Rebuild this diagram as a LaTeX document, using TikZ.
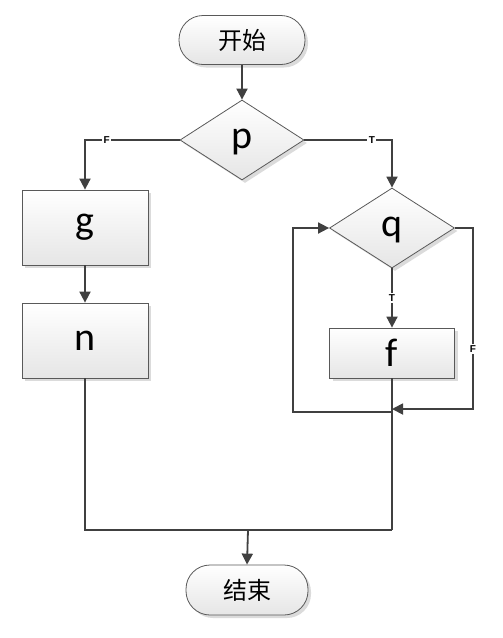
\documentclass[tikz,border=0pt]{standalone}
\usepackage{fontspec}
\setmainfont{Carlito}
\newfontfamily\cjk{Noto Sans CJK SC}
\newfontfamily\labfont{Liberation Sans}
\usetikzlibrary{shapes.geometric,arrows.meta,shadows}
\definecolor{edgec}{HTML}{404040}
\definecolor{linec}{HTML}{595959}
\tikzset{
  base/.style={draw=linec, line width=0.8pt, top color=white, bottom color=black!10,
    drop shadow={shadow xshift=3pt, shadow yshift=-3pt, fill=black!14, opacity=1}, inner sep=0pt},
  term/.style={base, rectangle, rounded corners=24pt, minimum height=49pt, font=\cjk\fontsize{24}{24}\selectfont},
  proc/.style={base, rectangle, font=\fontsize{40}{40}\selectfont},
  dec/.style={base, diamond, minimum width=124pt, minimum height=80pt},
  declab/.style={font=\fontsize{40}{40}\selectfont, inner sep=0pt},
  conn/.style={draw=edgec, line width=1.8pt},
  arr/.style={conn, -{Triangle[length=11pt,width=11pt]}},
  tf/.style={fill=white, inner sep=1.5pt, font=\labfont\bfseries\fontsize{10}{10}\selectfont, text=black}
}
\begin{document}
\begin{tikzpicture}[x=1pt,y=-1pt]
\useasboundingbox (0,0) rectangle (503,638);
\node[term, minimum width=126pt] (start) at (242,40) {开始};
\node[dec] (p) at (242,140) {};
\node[declab, yshift=-2pt] (pl) at (p) {p};
\node[proc, minimum width=126pt, minimum height=75pt] (g) at (85,227.5) {g};
\node[proc, minimum width=126pt, minimum height=75pt] (n) at (85,340.5) {n};
\node[dec, minimum width=125pt] (q) at (392,228) {};
\node[declab, yshift=-2pt] (ql) at (q) {q};
\node[proc, minimum width=125pt, minimum height=50pt] (f) at (392,353) {f};
\node[term, minimum width=122pt, minimum height=50pt] (end) at (247,590) {结束};

\coordinate (fr) at (473,228);
\coordinate (frb) at (473,409);
\coordinate (fin) at (392,409);
\coordinate (lb) at (392,412);
\coordinate (lbl) at (293,412);
\coordinate (lt) at (293,228);
\coordinate (fb) at (392,530);
\coordinate (nb) at (85,530);
\coordinate (mid) at (248,530);

\draw[arr] (start) -- (p);
\draw[arr] (p.west) -| node[tf, pos=0.385] {F} (g.north);
\draw[arr] (p.east) -| node[tf, pos=0.385] {T} (q.north);
\draw[arr] (g) -- (n);
\draw[arr] (q.south) -- node[tf, pos=0.5] {T} (f.north);
\draw[arr] (q.east) -- (fr) -- node[tf, pos=0.67] {F} (frb) -- (fin);
\draw[conn] (f.south) -- (fb);
\draw[arr] (lb) -- (lbl) -- (lt) -- (q.west);
\draw[conn] (n.south) -- (nb) -- (fb);
\draw[arr] (mid) -- (end.north);
\end{tikzpicture}
\end{document}
